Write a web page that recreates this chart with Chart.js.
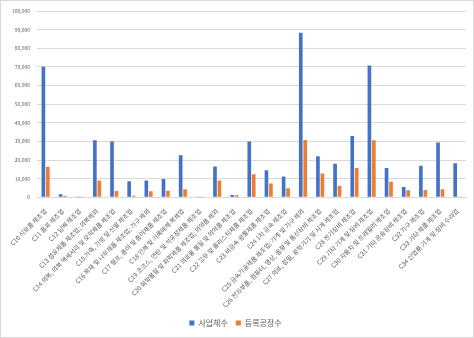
<!DOCTYPE html>
<html>
<head>
<meta charset="utf-8">
<script src="https://cdn.jsdelivr.net/npm/chart.js@4"></script>
<style>
    html, body { margin: 0; padding: 0; background: #fff; }
    #wrap { width: 472px; height: 336px; border: 1px solid #d9d9d9; }
</style>
</head>
<body>
<div id="wrap"><canvas id="chart" width="472" height="336"></canvas></div>
<script>
const categories = [
    "C10 식료품 제조업",
    "C11 음료 제조업",
    "C12 담배 제조업",
    "C13 섬유제품 제조업; 의복제외",
    "C14 의복, 의복 액세서리 및 모피제품 제조업",
    "C15 가죽, 가방 및 신발 제조업",
    "C16 목재 및 나무제품 제조업; 가구 제외",
    "C17 펄프, 종이 및 종이제품 제조업",
    "C18 인쇄 및 기록매체 복제업",
    "C19 코크스, 연탄 및 석유정제품 제조업",
    "C20 화학물질 및 화학제품 제조업; 의약품 제외",
    "C21 의료용 물질 및 의약품 제조업",
    "C22 고무 및 플라스틱제품 제조업",
    "C23 비금속 광물제품 제조업",
    "C24 1차 금속 제조업",
    "C25 금속가공제품 제조업; 기계 및 가구 제외",
    "C26 전자부품, 컴퓨터, 영상, 음향 및 통신장비 제조업",
    "C27 의료, 정밀, 광학기기 및 시계 제조업",
    "C28 전기장비 제조업",
    "C29 기타 기계 및 장비 제조업",
    "C30 자동차 및 트레일러 제조업",
    "C31 기타 운송장비 제조업",
    "C32 가구 제조업",
    "C33 기타 제품 제조업",
    "C34 산업용 기계 및 장비 수리업"
];

// 사업체수
const businesses = [70100, 1700, 20, 30600, 30000, 8700, 9100, 9800, 22600, 200,
    16500, 1300, 30000, 14500, 11200, 88300, 22100, 18000, 32900, 70800,
    15700, 5500, 16900, 29400, 18300];

// 등록공장수
const factories = [16400, 800, 10, 9100, 3400, 800, 3300, 3500, 4400, 100,
    9100, 1100, 12400, 7400, 4900, 30800, 12800, 6200, 15700, 30600,
    8400, 3800, 4000, 4400, 100];

const seriesNames = ["사업체수", "등록공장수"];
const yTicks = { min: 0, max: 100000, step: 10000 };

const font = "'Noto Sans CJK KR', 'Noto Sans', sans-serif";

new Chart(document.getElementById("chart"), {
    type: "bar",
    data: {
        labels: categories,
        datasets: [
            {
                label: seriesNames[0],
                data: businesses,
                backgroundColor: "#4472c4"
            },
            {
                label: seriesNames[1],
                data: factories,
                backgroundColor: "#ed7d31"
            }
        ]
    },
    options: {
        responsive: false,
        animation: false,
        layout: { padding: { top: 5, left: 4, right: 7, bottom: 0 } },
        datasets: {
            bar: { categoryPercentage: 0.52, barPercentage: 0.82 }
        },
        plugins: {
            legend: {
                position: "bottom",
                labels: {
                    boxWidth: 5,
                    boxHeight: 5,
                    padding: 8,
                    color: "#595959",
                    font: { family: font, size: 8 }
                }
            },
            tooltip: { enabled: false }
        },
        scales: {
            x: {
                grid: { display: false },
                border: { color: "#d9d9d9" },
                ticks: {
                    autoSkip: false,
                    minRotation: 45,
                    maxRotation: 45,
                    padding: 2,
                    color: "#595959",
                    font: { family: font, size: 6.3 }
                }
            },
            y: {
                min: yTicks.min,
                max: yTicks.max,
                grid: { color: "#d9d9d9", drawTicks: false },
                border: { display: false },
                ticks: {
                    stepSize: yTicks.step,
                    padding: 7,
                    color: "#595959",
                    font: { family: font, size: 5 }
                }
            }
        }
    }
});
</script>
</body>
</html>
